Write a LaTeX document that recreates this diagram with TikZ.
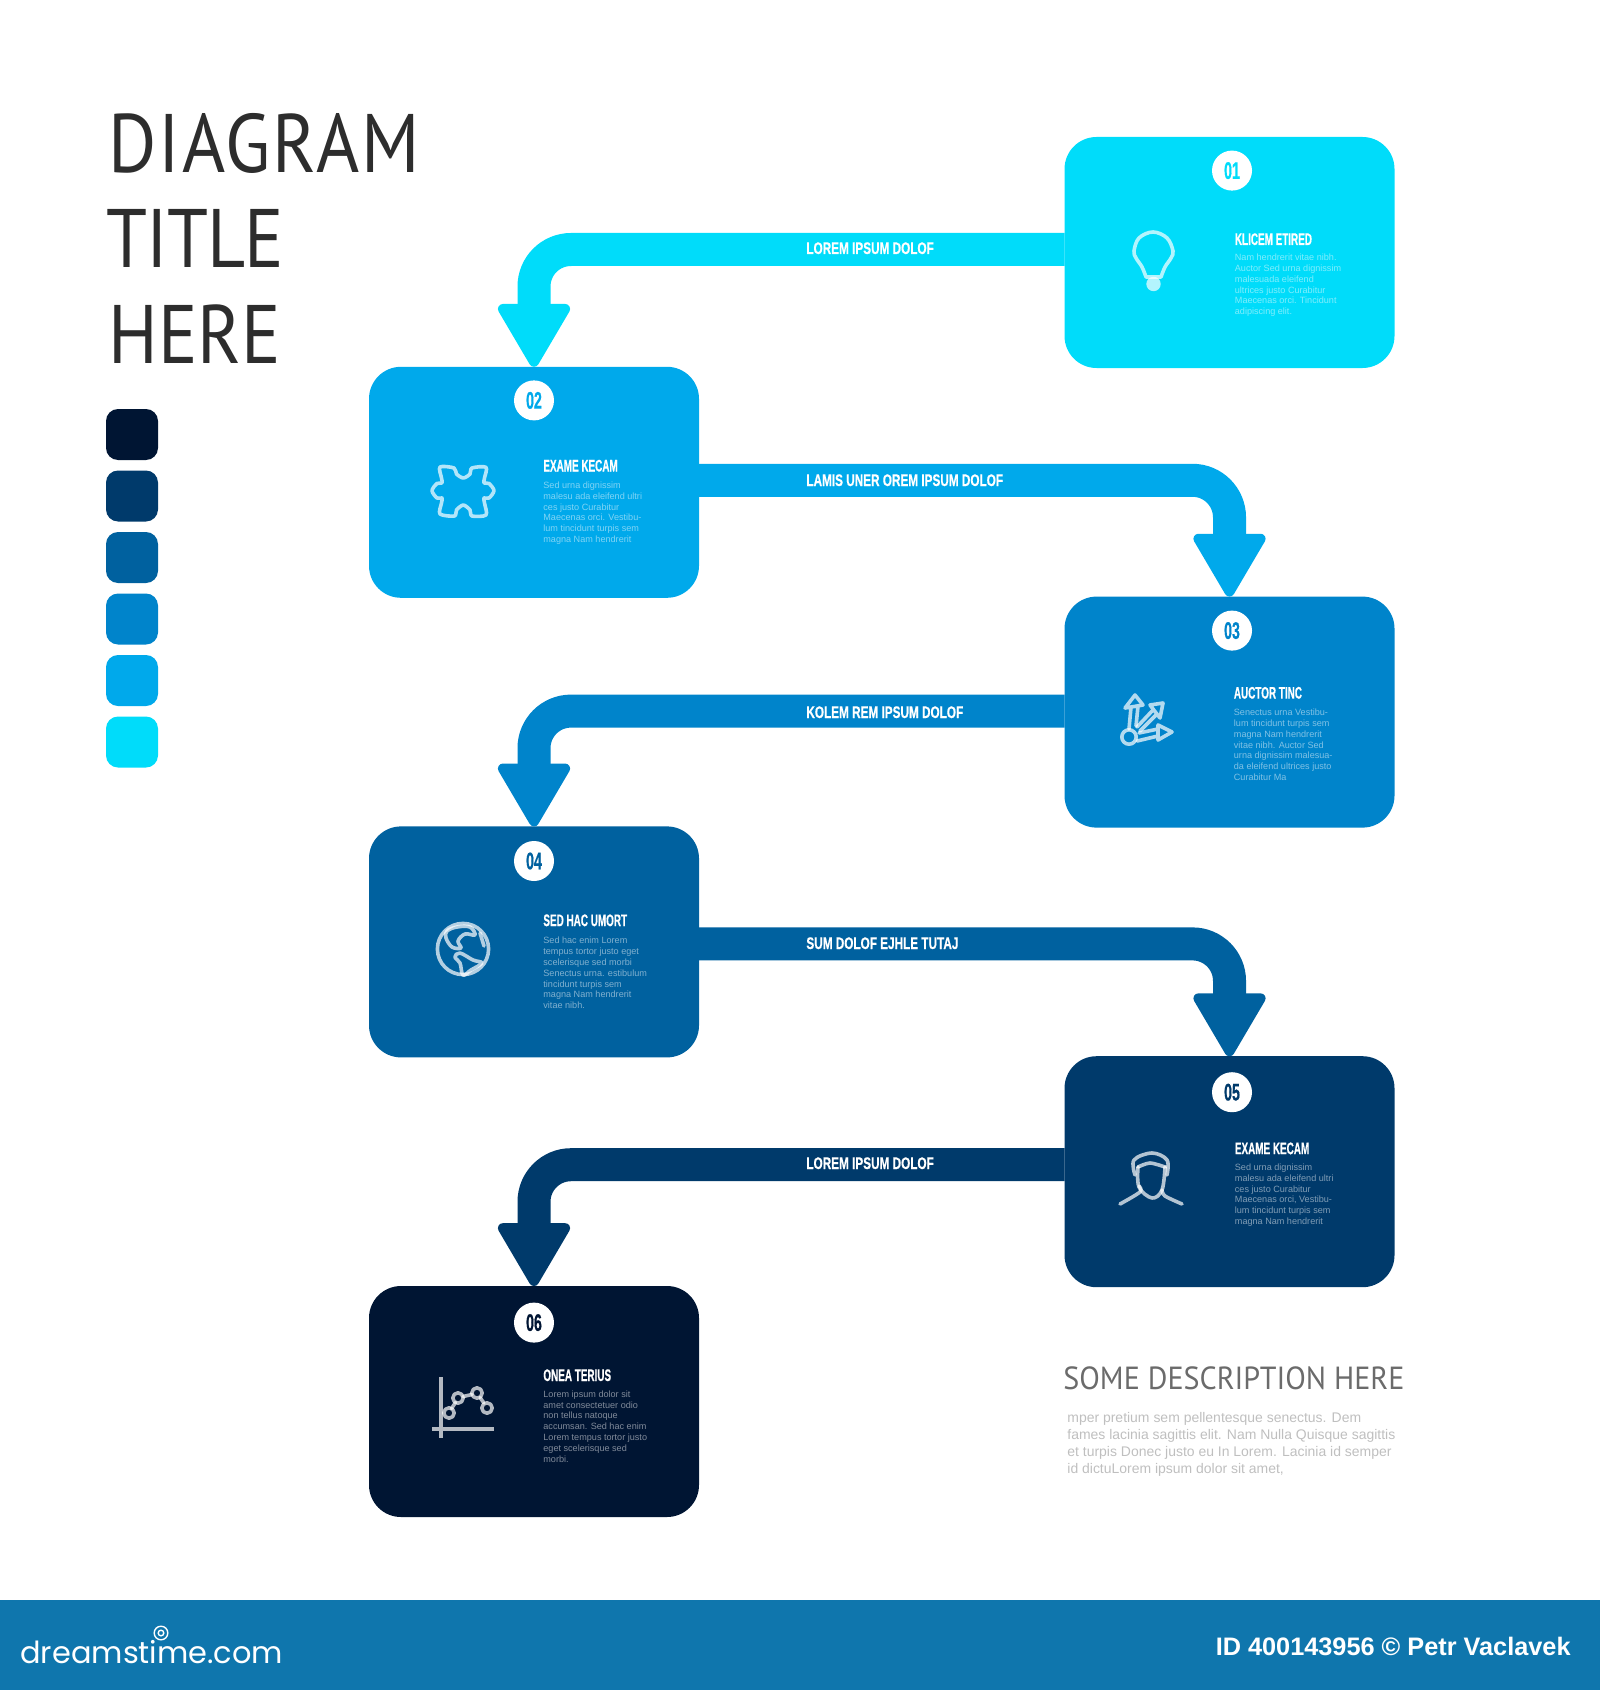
\documentclass[tikz,border=0pt]{standalone}
\usepackage{fontspec}
\usepackage{xcolor}
\usepackage{tikz}
\usetikzlibrary{arrows.meta,positioning}
\setmainfont{Liberation Sans}
\newfontfamily\titlefont[FakeStretch=0.89]{PT Sans}
\newfontfamily\descfont[FakeStretch=0.94]{PT Sans}
\newfontfamily\headfont[FakeStretch=0.59,BoldFeatures={FakeBold=0.4}]{Liberation Sans}
\newfontfamily\edgefont[FakeStretch=0.7,BoldFeatures={FakeBold=0.4}]{Liberation Sans}
\newfontfamily\logofont{Poppins}
\definecolor{stepa}{RGB}{0, 220, 250}
\definecolor{stepb}{RGB}{0, 169, 235}
\definecolor{stepc}{RGB}{0, 132, 203}
\definecolor{stepd}{RGB}{0, 97, 159}
\definecolor{stepe}{RGB}{0, 58, 107}
\definecolor{stepf}{RGB}{0, 21, 51}
\definecolor{footerblue}{RGB}{15, 118, 173}
\definecolor{titlegray}{RGB}{45, 45, 45}
\tikzstyle{stepbox} = [rectangle, draw=none, rounded corners=16pt, minimum width=165pt, minimum height=115.5pt, inner sep=0pt, outer sep=0pt]
\tikzstyle{swatch} = [rectangle, draw=none, rounded corners=6pt, minimum width=26pt, minimum height=25.5pt, inner sep=0pt, outer sep=0pt]
\tikzstyle{numdot} = [circle, draw=none, fill=white, minimum size=20pt, inner sep=0pt, outer sep=0pt, font=\headfont\bfseries\fontsize{12}{12}\selectfont]
\tikzstyle{headtext} = [anchor=base west, inner sep=0pt, text=white, font=\headfont\bfseries\fontsize{8.4}{8.4}\selectfont]
\tikzstyle{edgetext} = [anchor=base west, inner sep=0pt, text=white, font=\edgefont\bfseries\fontsize{8.4}{8.4}\selectfont]
\tikzstyle{bodytext} = [inner sep=0pt, align=left, text=white, text opacity=.5, font=\fontsize{4.55}{5.4}\selectfont]
\tikzstyle{titletext} = [anchor=base west, inner sep=0pt, text=titlegray, font=\titlefont\fontsize{41.5}{41.5}\selectfont]
\tikzstyle{icon} = [draw=white, draw opacity=.7, line width=1.8pt, line join=round, line cap=round]
\tikzstyle{flowedge} = [draw, line width=16.5pt, rounded corners=18.5pt, -{Triangle[width=38.5pt,length=34pt,round,line width=5pt]}]

\begin{document}
\begin{tikzpicture}[x=0.5pt, y=-0.5pt]
\useasboundingbox (0,0) rectangle (1600,1690);

%title==============================
\node[titletext] (title1) at (108,172.3) {\addfontfeature{LetterSpace=2.4}DIAGRAM};
\node[titletext] (title2) at (106,268) {\addfontfeature{LetterSpace=-1}TITLE};
\node[titletext] (title3) at (108,364) {HERE};

\node[swatch, fill=stepf, anchor=north west] (sw1) at (106,409) {};
\node[swatch, fill=stepe, below=5.25pt of sw1] (sw2) {};
\node[swatch, fill=stepd, below=5.25pt of sw2] (sw3) {};
\node[swatch, fill=stepc, below=5.25pt of sw3] (sw4) {};
\node[swatch, fill=stepb, below=5.25pt of sw4] (sw5) {};
\node[swatch, fill=stepa, below=5.25pt of sw5] (sw6) {};

%boxes==============================
\node[stepbox, fill=stepa, anchor=north west] (step1) at (1064.5,137) {};
\node[stepbox, fill=stepb, below left=-0.6pt and 182.75pt of step1] (step2) {};
\node[stepbox, fill=stepc, below right=-0.6pt and 182.75pt of step2] (step3) {};
\node[stepbox, fill=stepd, below left=-0.6pt and 182.75pt of step3] (step4) {};
\node[stepbox, fill=stepe, below right=-0.6pt and 182.75pt of step4] (step5) {};
\node[stepbox, fill=stepf, below left=-0.6pt and 182.75pt of step5] (step6) {};

\node[numdot, text=stepa, below=6.8pt of step1.north, xshift=1.25pt] (num1) {01};
\node[numdot, text=stepb, below=6.8pt of step2.north] (num2) {02};
\node[numdot, text=stepc, below=7pt of step3.north, xshift=1.25pt] (num3) {03};
\node[numdot, text=stepd, below=7.3pt of step4.north] (num4) {04};
\node[numdot, text=stepe, below=8pt of step5.north, xshift=1.25pt] (num5) {05};
\node[numdot, text=stepf, below=8.3pt of step6.north] (num6) {06};

% texts
\node[headtext] (head1) at ([shift={(170,108)}]step1.north west) {KLICEM ETIRED};
\node[bodytext, below right=4.4pt and 0pt of head1.base west] (body1) {Nam hendrerit vitae nibh.\\Auctor Sed urna dignissim\\malesuada eleifend\\ultrices justo Curabitur\\Maecenas orci. Tincidunt\\adipiscing elit.};
\node[headtext] (head2) at ([shift={(174,104.7)}]step2.north west) {EXAME KECAM};
\node[bodytext, below right=5pt and 0pt of head2.base west] (body2) {Sed urna dignissim\\malesu ada eleifend ultri\\ces justo Curabitur\\Maecenas orci. Vestibu-\\lum tincidunt turpis sem\\magna Nam hendrerit};
\node[headtext] (head3) at ([shift={(169,102)}]step3.north west) {AUCTOR TINC};
\node[bodytext, below right=5pt and 0pt of head3.base west] (body3) {Senectus urna Vestibu-\\lum tincidunt turpis sem\\magna Nam hendrerit\\vitae nibh. Auctor Sed\\urna dignissim malesua-\\da eleifend ultrices justo\\Curabitur Ma};
\node[headtext] (head4) at ([shift={(174,99.7)}]step4.north west) {SED HAC UMORT};
\node[bodytext, below right=5.4pt and 0pt of head4.base west] (body4) {Sed hac enim Lorem\\tempus tortor justo eget\\scelerisque sed morbi\\Senectus urna. estibulum\\tincidunt turpis sem\\magna Nam hendrerit\\vitae nibh.};
\node[headtext] (head5) at ([shift={(170,98)}]step5.north west) {EXAME KECAM};
\node[bodytext, below right=4.6pt and 0pt of head5.base west] (body5) {Sed urna dignissim\\malesu ada eleifend ultri\\ces justo Curabitur\\Maecenas orci, Vestibu-\\lum tincidunt turpis sem\\magna Nam hendrerit};
\node[headtext] (head6) at ([shift={(174,95)}]step6.north west) {ONEA TERIUS};
\node[bodytext, below right=4.6pt and 0pt of head6.base west] (body6) {Lorem ipsum dolor sit\\amet consectetuer odio\\non tellus natoque\\accumsan. Sed hac enim\\Lorem tempus tortor justo\\eget scelerisque sed\\morbi.};

% edges
\path[flowedge, draw=stepa, fill=none] ([yshift=1.5pt]step1.west) -| (step2.north);
\path[flowedge, draw=stepb, fill=none] ([yshift=1pt]step2.east) -| (step3.north);
\path[flowedge, draw=stepc, fill=none] ([yshift=0.5pt]step3.west) -| (step4.north);
\path[flowedge, draw=stepd, fill=none] ([yshift=-1pt]step4.east) -| (step5.north);
\path[flowedge, draw=stepe, fill=none] ([yshift=3.5pt]step5.west) -| (step6.north);

\node[edgetext] (edge1) at (806,254) {LOREM IPSUM DOLOF};
\node[edgetext] (edge2) at (806,486) {LAMIS UNER OREM IPSUM DOLOF};
\node[edgetext] (edge3) at (806,718) {KOLEM REM IPSUM DOLOF};
\node[edgetext] (edge4) at (806,949) {SUM DOLOF EJHLE TUTAJ};
\node[edgetext] (edge5) at (806,1169) {LOREM IPSUM DOLOF};

%icons==============================
% bulb
\draw[icon] plot[smooth, tension=.6] coordinates {(1146,277) (1142,267) (1136,258) (1134,251) (1139,238) (1153,232) (1167,238) (1173,251) (1171,258) (1165,267) (1161,277)} -- cycle;
\fill[white, opacity=.7] (1153.5,284) circle (3.6pt);
% puzzle
\draw[icon] plot[smooth cycle, tension=.5] coordinates {(440,467) (454,468) (456.5,474) (463.3,478) (470,474) (472,468) (486,467.3) (484.5,478) (484,483) (489,483.5) (494,490.7) (489,498) (484,498) (484.5,503) (486,515) (472,516) (470,510) (463.3,505) (456.5,510) (454.5,516) (440,514) (441.5,503) (442,498) (437,498) (432,490.7) (437,483.5) (442,483) (441.5,478)};
% arrows
\draw[icon] (1129,737) circle (3.6pt);
\draw[icon] (1135,695) -- (1125,708) -- (1143,705) -- cycle (1131,707) -- (1129,729) (1138,706) -- (1136,726);
\draw[icon] (1163,703) -- (1150,705) -- (1160,718) -- cycle (1153,710) -- (1137,727) (1157,714) -- (1140,731);
\draw[icon] (1172,732) -- (1158,725) -- (1158,740) -- cycle (1158,729) -- (1139,733) (1158,736) -- (1137,741);
% globe
\draw[icon] (463,949) circle (12.8pt);
\draw[icon] plot[smooth cycle, tension=.6] coordinates {(447,931) (457,927) (470,927) (475,935) (465,934) (458,941) (461,948) (452,947) (446,938)};
\draw[icon] plot[smooth cycle, tension=.6] coordinates {(460,953) (473,960) (482,963) (471,970) (463,975) (460,963) (455,957)};
\draw[icon] (480,933) -- (484,946);
% person
\draw[icon] plot[smooth, tension=.6] coordinates {(1135,1175) (1134,1160) (1152,1153) (1167,1160) (1167,1175)};
\draw[icon] plot[smooth, tension=.5] coordinates {(1138,1167) (1150,1163) (1165,1167)};
\draw[icon] plot[smooth, tension=.6] coordinates {(1138,1167) (1139,1187) (1152,1198) (1162,1190) (1165,1167)};
\draw[icon] plot[smooth, tension=.5] coordinates {(1139,1186) (1140,1192) (1120,1204)};
\draw[icon] plot[smooth, tension=.5] coordinates {(1162,1190) (1165,1196) (1182,1204)};
% chart
\draw[icon, line cap=butt] (441,1377) -- (441,1438) (432,1429) -- (494,1429);
\draw[icon] (449,1413) circle (2.6pt) (458,1398) circle (2.6pt) (477,1393) circle (2.6pt) (487,1408) circle (2.6pt);
\draw[icon] (451.5,1408.5) -- (455.5,1402.5) (463,1396.5) -- (472,1394.5) (480,1397.5) -- (484,1403);

%description========================
\node[anchor=base west, inner sep=0pt, text=black!58, font=\descfont\fontsize{16}{16}\selectfont] (desc) at (1063,1389) {SOME DESCRIPTION HERE};
\node[anchor=north west, inner sep=0pt, align=left, text=black!25, font=\fontsize{6.98}{8.5}\selectfont] (desctext) at (1067,1412) {mper pretium sem pellentesque senectus. Dem\\fames lacinia sagittis elit. Nam Nulla Quisque sagittis\\et turpis Donec justo eu In Lorem. Lacinia id semper\\id dictuLorem ipsum dolor sit amet,};

%footer=============================
\node[rectangle, draw=none, fill=footerblue, minimum width=800pt, minimum height=45pt, inner sep=0pt, outer sep=0pt, anchor=north west] (footer) at (0,1600) {};
\node[anchor=base west, inner sep=0pt, text=white, font=\logofont\fontsize{15.2}{15.2}\selectfont] (logo) at (20,1663) {dreamstime.com};
\draw[white, line width=.7pt] (161,1633) circle (3.4pt) (161,1633) circle (1.4pt);
\node[anchor=base east, inner sep=0pt, text=white, font=\bfseries\fontsize{12.65}{12.65}\selectfont] (credit) at (1571,1655) {ID 400143956 © Petr Vaclavek};
\end{tikzpicture}
\end{document}
